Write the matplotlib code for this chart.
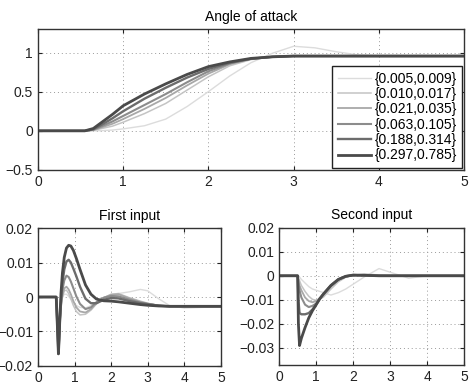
import numpy as np
import matplotlib
matplotlib.use("Agg")
import matplotlib.pyplot as plt

plt.rcParams['font.family'] = ['Liberation Sans', 'DejaVu Sans']
plt.rcParams['font.size'] = 10

labels = ["{0.005,0.009}", "{0.010,0.017}", "{0.021,0.035}",
          "{0.063,0.105}", "{0.188,0.314}", "{0.297,0.785}"]
colors = ["#dcdcdc", "#c4c4c4", "#a8a8a8", "#8c8c8c", "#6c6c6c", "#4a4a4a"]
widths = [1.0, 1.1, 1.3, 1.5, 1.7, 2.0]

# Angle of attack
t_aoa = [0, 0.55, 0.65, 0.75, 0.875, 1.0, 1.25, 1.5, 1.75, 2.0, 2.25, 2.5,
         2.75, 3.0, 3.25, 3.5, 3.75, 4.0, 5.0]
aoa = [
    [0, 0, 0.0, 0.003, 0.01, 0.025, 0.065, 0.15, 0.31, 0.50, 0.70, 0.87, 0.99, 1.08, 1.06, 1.01, 0.97, 0.96, 0.96],
    [0, 0, 0.008, 0.03, 0.06, 0.11, 0.22, 0.35, 0.52, 0.69, 0.83, 0.91, 0.945, 0.955, 0.955, 0.955, 0.955, 0.955, 0.955],
    [0, 0, 0.01, 0.045, 0.09, 0.15, 0.28, 0.42, 0.58, 0.73, 0.85, 0.92, 0.945, 0.955, 0.955, 0.955, 0.955, 0.955, 0.955],
    [0, 0, 0.015, 0.06, 0.12, 0.19, 0.33, 0.47, 0.62, 0.76, 0.86, 0.92, 0.945, 0.955, 0.955, 0.955, 0.955, 0.955, 0.955],
    [0, 0, 0.02, 0.08, 0.16, 0.25, 0.41, 0.55, 0.68, 0.79, 0.87, 0.92, 0.945, 0.955, 0.955, 0.955, 0.955, 0.955, 0.955],
    [0, 0, 0.03, 0.11, 0.21, 0.32, 0.47, 0.60, 0.72, 0.82, 0.88, 0.925, 0.945, 0.955, 0.955, 0.955, 0.955, 0.955, 0.955],
]

# First input
t_u1 = [0, 0.5, 0.53, 0.56, 0.58, 0.6, 0.63, 0.67, 0.72, 0.78, 0.84, 0.9, 0.97,
        1.05, 1.15, 1.3, 1.45, 1.6, 1.8, 2.0, 2.2, 2.5, 2.8, 3.0, 3.3, 3.6, 4.0, 5.0]
u1 = [
    [0, 0, -0.004, -0.008, -0.006, -0.004, -0.002, 0.0, 0.0008, 0.0008, 0.0002, -0.0006, -0.0015,
     -0.0025, -0.003, -0.0032, -0.0025, -0.0015, -0.0003, 0.0008, 0.001, 0.0015, 0.0022, 0.0018, -0.0005, -0.0025, -0.0032, -0.0028],
    [0, 0, -0.006, -0.013, -0.010, -0.007, -0.003, 0.0, 0.0018, 0.002, 0.001, -0.0005, -0.0025,
     -0.0042, -0.0052, -0.005, -0.0038, -0.002, -0.0002, 0.0008, 0.001, -0.0002, -0.0012, -0.0018, -0.0025, -0.0027, -0.0027, -0.0027],
    [0, 0, -0.007, -0.015, -0.011, -0.007, -0.003, 0.0005, 0.0025, 0.003, 0.0022, 0.0008, -0.0012,
     -0.003, -0.0042, -0.0045, -0.0035, -0.0018, -0.0002, 0.0006, 0.0008, -0.0004, -0.0014, -0.0019, -0.0025, -0.0027, -0.0027, -0.0027],
    [0, 0, -0.008, -0.016, -0.012, -0.007, -0.002, 0.002, 0.0048, 0.0062, 0.0058, 0.0045, 0.0025,
     0.0002, -0.002, -0.0035, -0.003, -0.0015, -0.0002, 0.0003, 0.0002, -0.0008, -0.0016, -0.002, -0.0025, -0.0027, -0.0027, -0.0027],
    [0, 0, -0.008, -0.0165, -0.012, -0.007, -0.001, 0.004, 0.008, 0.0103, 0.0108, 0.010, 0.0082,
     0.006, 0.003, -0.0005, -0.0018, -0.0018, -0.0008, -0.0003, -0.0004, -0.0012, -0.0018, -0.0021, -0.0025, -0.0027, -0.0027, -0.0027],
    [0, 0, -0.008, -0.0165, -0.012, -0.006, 0.001, 0.007, 0.0115, 0.0142, 0.015, 0.0148, 0.0135,
     0.0112, 0.008, 0.0035, 0.0008, -0.0006, -0.0011, -0.0012, -0.0014, -0.0018, -0.0022, -0.0024, -0.0026, -0.0027, -0.0027, -0.0027],
]

# Second input
t_u2 = [0, 0.5, 0.52, 0.55, 0.6, 0.7, 0.8, 0.9, 1.0, 1.1, 1.2, 1.4, 1.6, 1.8, 2.0,
        2.3, 2.7, 3.0, 3.5, 4.0, 5.0]
u2 = [
    [0, 0, 0.0, -0.0005, -0.0015, -0.003, -0.0045, -0.0055, -0.006, -0.0065, -0.007, -0.008,
     -0.007, -0.0055, -0.0035, -0.0005, 0.003, 0.0015, -0.001, 0.0, 0.0],
    [0, 0, -0.001, -0.002, -0.004, -0.0065, -0.0085, -0.0098, -0.0102, -0.0098, -0.0088, -0.0055,
     -0.0025, -0.0006, 0.0002, 0.0008, 0.0003, 0.0, 0.0, 0.0, 0.0],
    [0, 0, -0.002, -0.004, -0.006, -0.009, -0.0105, -0.011, -0.0105, -0.0092, -0.0078, -0.0045,
     -0.0018, -0.0004, 0.0002, 0.0002, 0.0, 0.0, 0.0, 0.0, 0.0],
    [0, 0, -0.003, -0.006, -0.009, -0.012, -0.013, -0.0125, -0.0115, -0.0095, -0.0078, -0.0042,
     -0.0016, -0.0003, 0.0002, 0.0002, 0.0, 0.0, 0.0, 0.0, 0.0],
    [0, 0, -0.010, -0.0155, -0.016, -0.016, -0.0155, -0.014, -0.012, -0.0095, -0.0075, -0.004,
     -0.0015, -0.0002, 0.0003, 0.0002, 0.0, 0.0, 0.0, 0.0, 0.0],
    [0, 0, -0.020, -0.029, -0.026, -0.0215, -0.0175, -0.0145, -0.012, -0.0095, -0.0075, -0.004,
     -0.0015, -0.0002, 0.0003, 0.0002, 0.0, 0.0, 0.0, 0.0, 0.0],
]


def style(ax):
    ax.grid(True, linestyle=(0, (1, 3)), color="#999999", linewidth=0.7)
    ax.tick_params(direction="in", top=True, right=True, length=3, colors="#222222")
    for s in ax.spines.values():
        s.set_color("#333333")
        s.set_linewidth(1.0)
    ax.set_xlim(0, 5)
    ax.set_xticks([0, 1, 2, 3, 4, 5])


fig = plt.figure(figsize=(4.74, 3.82), dpi=100)
ax1 = fig.add_axes([0.080, 0.555, 0.899, 0.369])
ax2 = fig.add_axes([0.080, 0.042, 0.386, 0.361])
ax3 = fig.add_axes([0.589, 0.045, 0.390, 0.359])

for i in range(6):
    ax1.plot(t_aoa, aoa[i], color=colors[i], lw=widths[i], label=labels[i])
    ax2.plot(t_u1, u1[i], color=colors[i], lw=widths[i])
    ax3.plot(t_u2, u2[i], color=colors[i], lw=widths[i])

style(ax1)
ax1.set_ylim(-0.5, 1.3)
ax1.set_yticks([-0.5, 0, 0.5, 1])
ax1.set_yticklabels(["\u22120.5", "0", "0.5", "1"])
ax1.set_title("Angle of attack", fontsize=10, pad=6)
leg = ax1.legend(loc="lower right", bbox_to_anchor=(0.996, 0.014), fontsize=10,
                 fancybox=False, handlelength=2.4, labelspacing=0.1,
                 borderpad=0.4, handletextpad=0.25, borderaxespad=0.0,
                 framealpha=1)
leg.get_frame().set_edgecolor("#222222")
leg.get_frame().set_linewidth(1.0)

style(ax2)
ax2.set_ylim(-0.02, 0.02)
ax2.set_yticks([-0.02, -0.01, 0, 0.01, 0.02])
ax2.set_yticklabels(["\u22120.02", "\u22120.01", "0", "0.01", "0.02"])
ax2.set_title("First input", fontsize=10, pad=6)

style(ax3)
ax3.set_ylim(-0.037, 0.02)
ax3.set_yticks([-0.03, -0.02, -0.01, 0, 0.01, 0.02])
ax3.set_yticklabels(["\u22120.03", "\u22120.02", "\u22120.01", "0", "0.01", "0.02"])
ax3.set_title("Second input", fontsize=10, pad=6)

fig.savefig("out.png", dpi=100)
